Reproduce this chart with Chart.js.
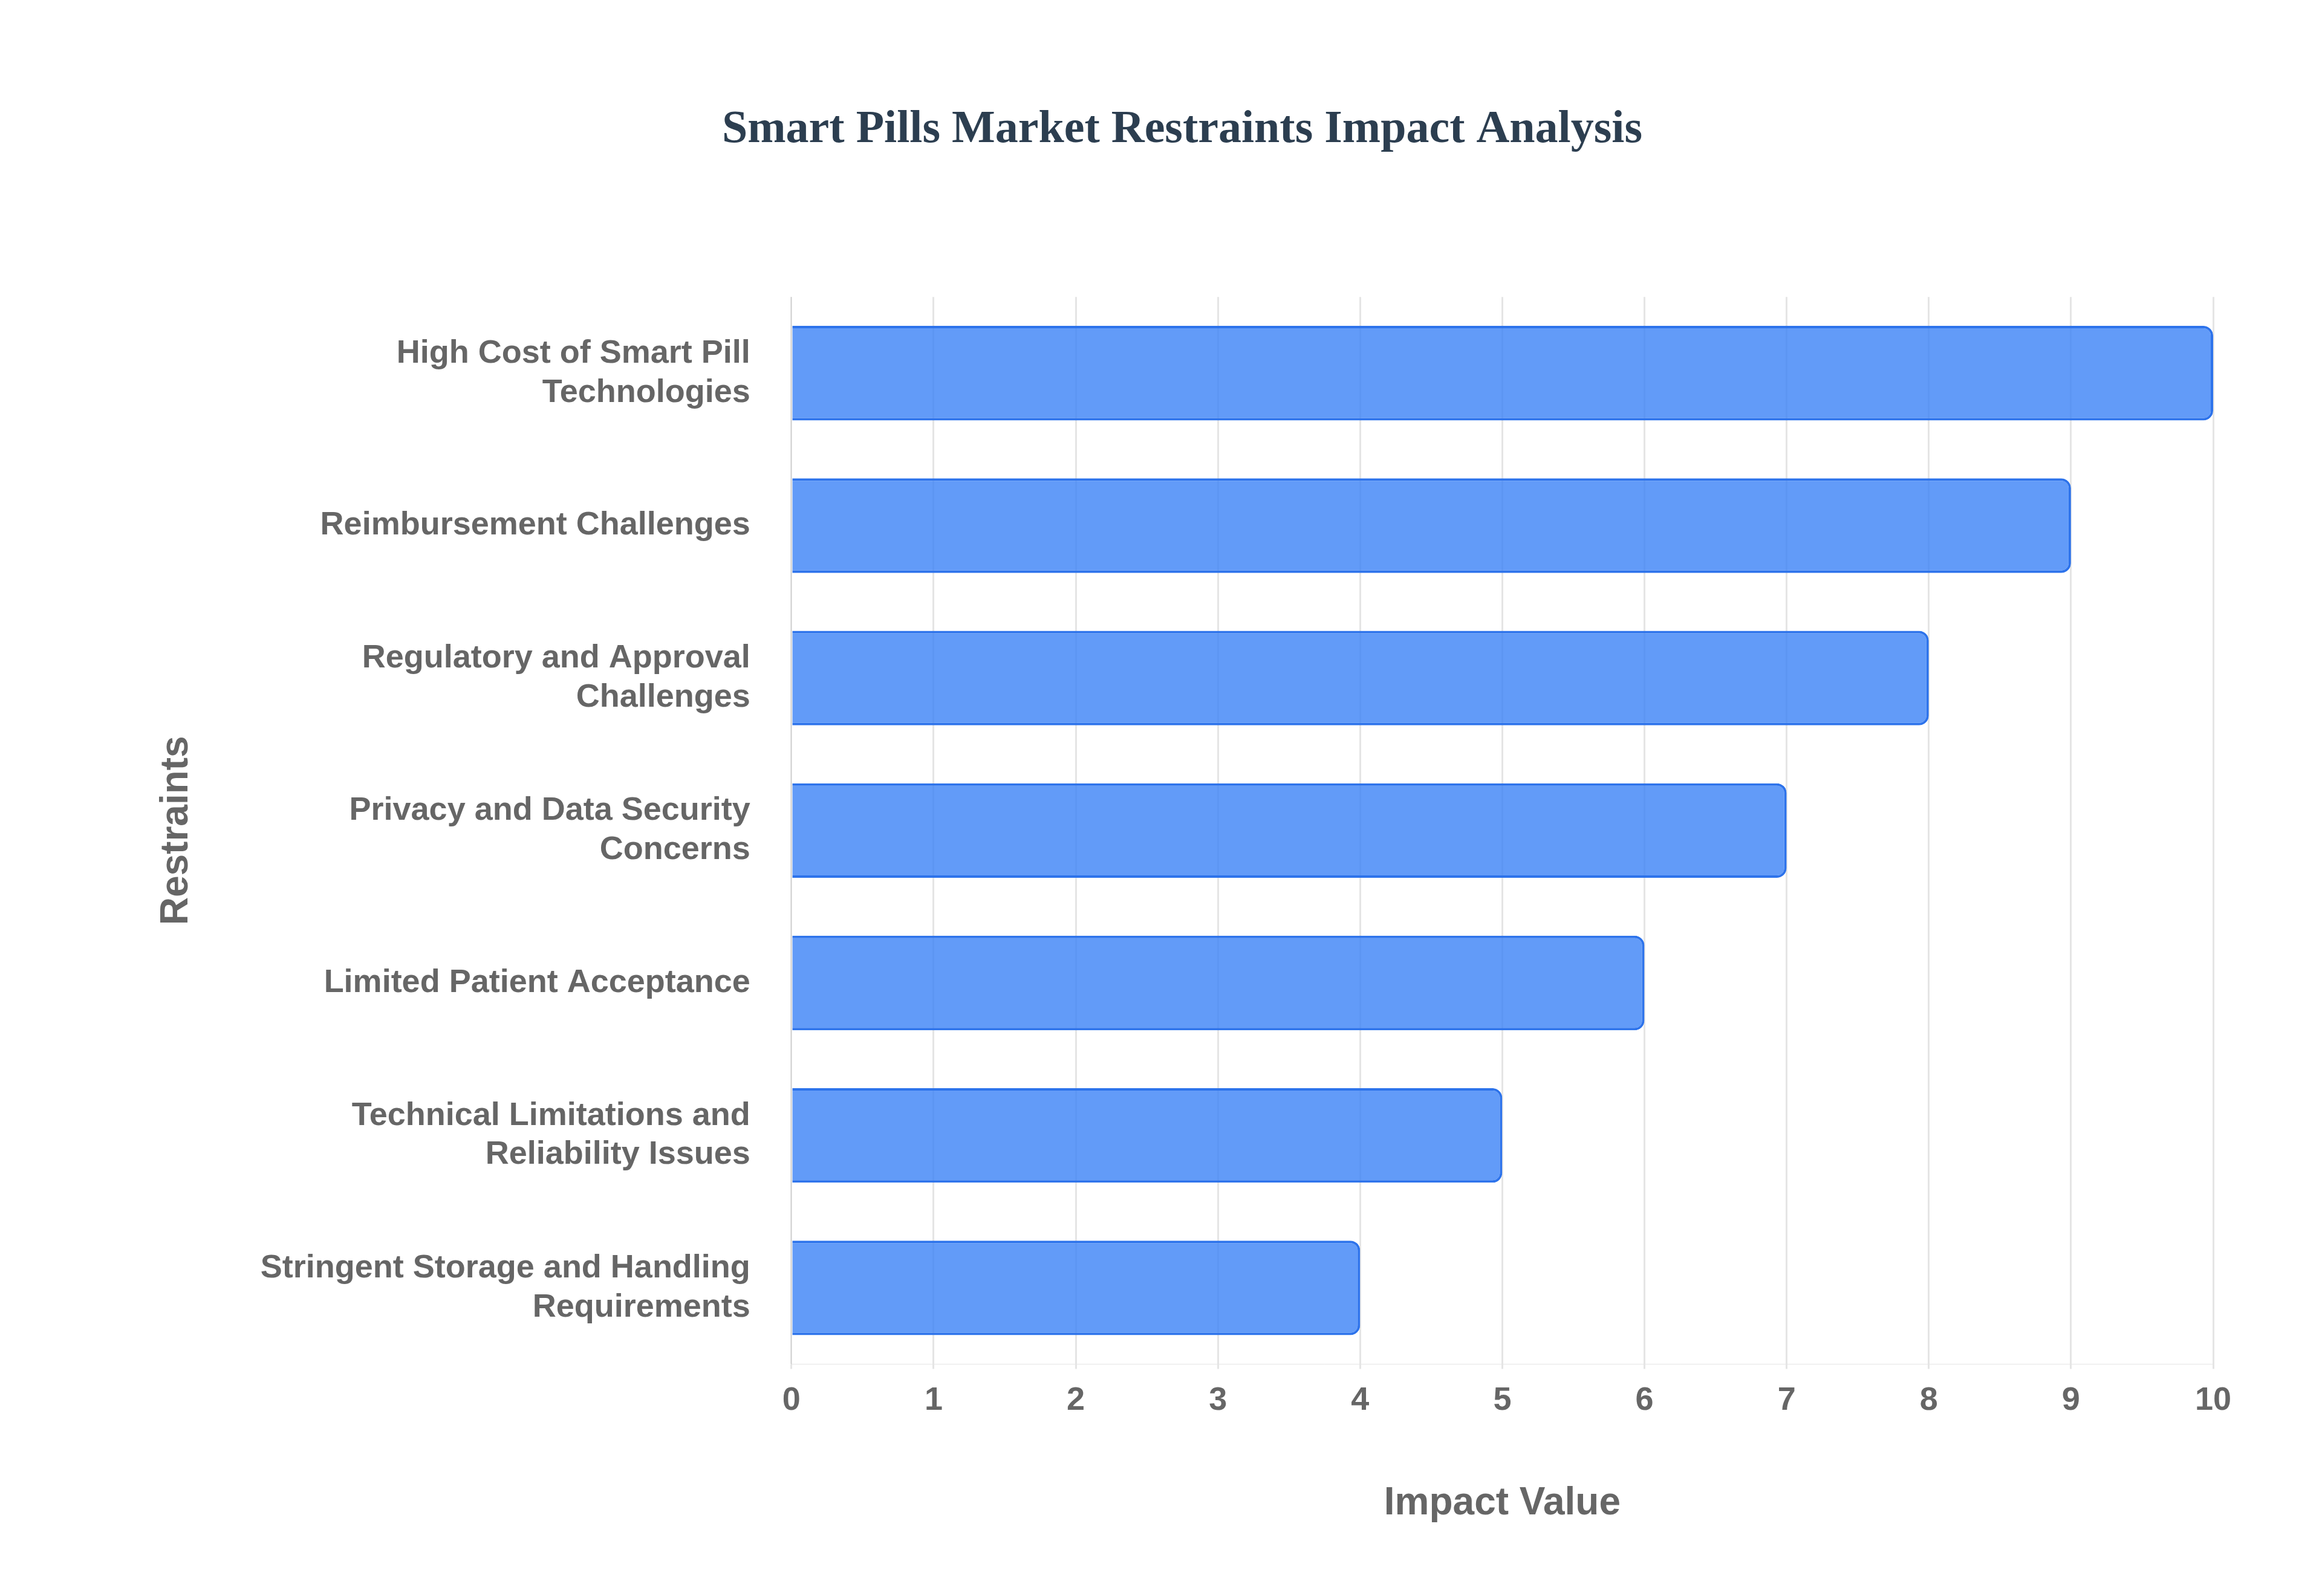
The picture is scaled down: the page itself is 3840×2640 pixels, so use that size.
<!DOCTYPE html>
<html>
<head>
<meta charset="utf-8">
<script src="https://cdn.jsdelivr.net/npm/chart.js@4"></script>
<style>
  html, body { margin: 0; padding: 0; background: #fff; }
  #wrap { width: 3840px; height: 2640px; }
</style>
</head>
<body>
<div id="wrap"><canvas id="chart" width="3840" height="2640"></canvas></div>
<script>
const categories = [
  ["High Cost of Smart Pill", "Technologies"],
  "Reimbursement Challenges",
  ["Regulatory and Approval", "Challenges"],
  ["Privacy and Data Security", "Concerns"],
  "Limited Patient Acceptance",
  ["Technical Limitations and", "Reliability Issues"],
  ["Stringent Storage and Handling", "Requirements"]
];
const impactValues = [10, 9, 8, 7, 6, 5, 4];
const xTicks = { min: 0, max: 10, step: 1 };

new Chart(document.getElementById("chart"), {
  type: "bar",
  data: {
    labels: categories,
    datasets: [{
      label: "Impact Value",
      data: impactValues,
      backgroundColor: "rgba(59, 130, 246, 0.8)",
      borderColor: "rgb(45, 115, 235)",
      borderWidth: 4,
      borderRadius: 16,
      barPercentage: 0.62,
      categoryPercentage: 1
    }]
  },
  options: {
    indexAxis: "y",
    responsive: false,
    devicePixelRatio: 1,
    animation: false,
    layout: { padding: { left: 250, right: 180, top: 60, bottom: 110 } },
    plugins: {
      legend: { display: false },
      title: {
        display: true,
        text: "Smart Pills Market Restraints Impact Analysis",
        color: "#2c3e50",
        font: { family: "Liberation Serif", size: 76, weight: "bold" },
        padding: { top: 110, bottom: 230 }
      }
    },
    scales: {
      x: {
        min: xTicks.min,
        max: xTicks.max,
        ticks: {
          stepSize: xTicks.step,
          color: "#666",
          font: { family: "Liberation Sans", size: 54, weight: "bold" },
          padding: 20
        },
        grid: { color: "#e5e5e5", lineWidth: 3 },
        title: {
          display: true,
          text: "Impact Value",
          color: "#666",
          font: { family: "Liberation Sans", size: 64, weight: "bold" },
          padding: { top: 80 }
        }
      },
      y: {
        ticks: {
          color: "#666",
          font: { family: "Liberation Sans", size: 54, weight: "bold" },
          padding: 60
        },
        grid: { display: false },
        title: {
          display: true,
          text: "Restraints",
          color: "#666",
          font: { family: "Liberation Sans", size: 64, weight: "bold" },
          padding: { bottom: 40 }
        }
      }
    }
  }
});
</script>
</body>
</html>
